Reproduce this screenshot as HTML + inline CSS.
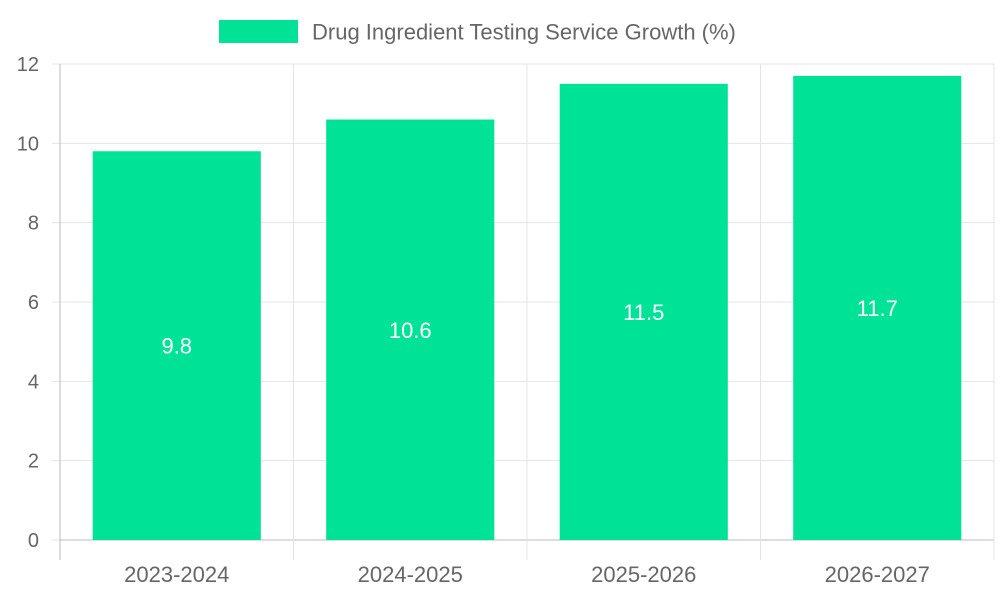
<!DOCTYPE html>
<html><head><meta charset="utf-8"><style>
body{margin:0;background:#fff;font-family:"Liberation Sans",sans-serif}
svg text{font-family:"Liberation Sans",sans-serif}
</style></head><body>
<svg id="chart" width="1000" height="600" xmlns="http://www.w3.org/2000/svg">
<g id="legend">
<rect x="219" y="20" width="79" height="23" fill="#00e396"/>
<text x="312" y="39.5" font-size="22" fill="#666">Drug Ingredient Testing Service Growth (%)</text>
</g>
<g id="grid"></g><g id="bars"></g><g id="labels"></g>
</svg>
<script>
const categories=["2023-2024","2024-2025","2025-2026","2026-2027"];
const values=[9.8,10.6,11.5,11.7];
const yTicks=[0,2,4,6,8,10,12];
const NS="http://www.w3.org/2000/svg";
const L=60,R=994,T=64,B=540,yMax=12;
const y=v=>B-(v/yMax)*(B-T);
const bw=(R-L)/categories.length;
const x=i=>L+i*bw;
function mk(tag,attrs,parent,txt){const e=document.createElementNS(NS,tag);for(const k in attrs)e.setAttribute(k,attrs[k]);if(txt!==undefined)e.textContent=txt;parent.appendChild(e);return e;}
const grid=document.getElementById('grid'),bars=document.getElementById('bars'),labels=document.getElementById('labels');
yTicks.forEach(t=>{
  const ln=mk('line',{x1:L,x2:R,y1:y(t),y2:y(t),stroke:t===0?'#bbb':'#e4e4e4','stroke-width':1},grid);
  
  
  const tk=mk('line',{x1:L-8,x2:L,y1:y(t),y2:y(t),stroke:'#e4e4e4'},grid);
  
  
  const tx=mk('text',{x:L-21,y:y(t)+7,'font-size':20,fill:'#666','text-anchor':'end'},grid,String(t));
  
  
});
for(let i=0;i<=categories.length;i++){
  const gl=mk('line',{x1:x(i),x2:x(i),y1:T,y2:B+20,stroke:i===0?'#bbb':'#e4e4e4'},grid);
  
  
}
categories.forEach((c,i)=>{
  const v=values[i];const w=bw*0.72;const bx=x(i)+(bw-w)/2;
  const r=mk('rect',{x:bx,y:y(v),width:w,height:B-y(v),fill:'#00e396'},bars);
  
  
  const vl=mk('text',{x:x(i)+bw/2,y:(y(v)+B)/2+8,'font-size':22,fill:'#fff','text-anchor':'middle'},labels,String(v));
  
  
  const xl=mk('text',{x:x(i)+bw/2,y:582,'font-size':22,fill:'#666','text-anchor':'middle'},labels,c);
  
  
});
</script>
</body></html>
